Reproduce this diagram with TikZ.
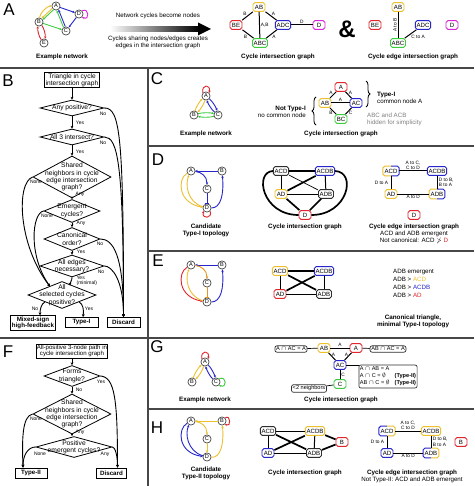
\documentclass[tikz,border=0pt]{standalone}
\usepackage{fontspec}
\setmainfont{Liberation Sans}
\usepackage{amssymb}
\usetikzlibrary{arrows.meta,shapes.geometric,calc,decorations.pathreplacing}
\definecolor{yel}{HTML}{EDC030}
\definecolor{blu}{HTML}{2626CC}
\definecolor{rdd}{HTML}{E0262C}
\definecolor{grn}{HTML}{3CCC3C}
\definecolor{mag}{HTML}{D826D8}
\definecolor{org}{HTML}{E89420}
\definecolor{blk}{HTML}{2E2E2E}
\definecolor{divc}{HTML}{474747}
\newcommand\fs[2]{\fontsize{#1}{#2}\selectfont}
\tikzset{
  cyc/.style={draw, rounded corners=1.8pt, line width=0.9pt, fill=white, inner sep=1.2pt, minimum height=8.8pt, minimum width=12pt, font=\fs{6.1}{6.8}},
  nn/.style={circle, draw=blk, line width=0.6pt, fill=white, inner sep=0pt, minimum size=8.2pt, font=\fs{5.6}{6}},
  lbl/.style={font=\fs{4.8}{5.3}, inner sep=0.4pt, align=center},
  flbl/.style={font=\fs{5}{5.5}, inner sep=0.4pt, align=center},
  capt/.style={font=\bfseries\fs{6.3}{7.1}, align=center, inner sep=0pt},
  txt/.style={font=\fs{6.2}{6.8}, align=center, inner sep=0pt},
  plab/.style={font=\fs{17}{17}, inner sep=0pt},
  ar/.style={-{Stealth[length=2.4pt,width=2.4pt]}},
  far/.style={-{Stealth[length=2.8pt,width=2.8pt]}},
  tb/.style={-{Bar[width=3.5pt]}},
  netw/.style={line width=0.9pt},
  flowbox/.style={draw, line width=0.8pt, align=center, font=\fs{6.6}{7.2}, inner sep=1.1pt, fill=white},
  endbox/.style={draw, line width=0.9pt, align=center, font=\bfseries\fs{6.2}{6.8}, inner sep=1pt, minimum height=10pt, fill=white},
  dshape/.style={diamond, draw, line width=0.8pt, inner sep=0pt, fill=white},
  dtext/.style={font=\fs{6.7}{7.3}, align=center, inner sep=0pt},
  fl/.style={line width=0.9pt},
  ge/.style={line width=1pt},
  gt/.style={line width=0.7pt},
  gk/.style={line width=1.7pt},
  cbox/.style={draw=blk, rounded corners=2pt, line width=0.7pt, fill=white, inner sep=1.2pt, font=\fs{5.6}{7}},
  divider/.style={line width=1.3pt, draw=divc},
}
\newcommand\dmd[5]{%
  \node[dshape,minimum width=#3pt,minimum height=#4pt] (#1) at (#2) {};
  \node[dtext] (#1t) at (#2) {#5};}
\newcommand\emnode[5]{%
  \node[cyc,draw=none] (#1) at (#2) {#3};
  \begin{scope}
    \clip ([shift={(-2pt,2pt)}]#1.north west) rectangle ([shift={(0pt,-2pt)}]#1.south);
    \draw[#4,line width=0.9pt,rounded corners=1.8pt] (#1.north west) rectangle (#1.south east);
  \end{scope}
  \begin{scope}
    \clip ([shift={(0pt,2pt)}]#1.north) rectangle ([shift={(2pt,-2pt)}]#1.south east);
    \draw[#5,line width=0.9pt,rounded corners=1.8pt] (#1.north west) rectangle (#1.south east);
  \end{scope}}
\newcommand\lensedge[4]{%
  \draw[#3] (#1) .. controls ($(#1)!0.33!(#2)!#4!90:(#2)$) and ($(#1)!0.67!(#2)!#4!90:(#2)$) .. (#2);
  \draw[#3] (#2) .. controls ($(#1)!0.67!(#2)!#4!-90:(#2)$) and ($(#1)!0.33!(#2)!#4!-90:(#2)$) .. (#1);}
\begin{document}
\begin{tikzpicture}[x=1pt,y=-1pt]
\useasboundingbox (0,0) rectangle (474,486);
\fill[white] (0,0) rectangle (474,486);
% dividers
\draw[divider] (0,68) -- (474,68);
\draw[divider] (0,338) -- (474,338);
\draw[divider] (148,68) -- (148,486);
\draw[divider] (148,146) -- (474,146);
\draw[divider] (148,251) -- (474,251);
\draw[divider] (148,409) -- (474,409);

%%%%%%%% PANEL A
\node[plab] (labA) at (9,10) {A};
\node[nn] (aA) at (56,6) {A};
\node[nn] (aD) at (79,14) {D};
\node[nn] (aB) at (39,22) {B};
\node[nn] (aC) at (66,31) {C};
\node[nn] (aE) at (44,43) {E};
\draw[netw,blu,ar] (aA) -- (aD);
\draw[netw,blu,ar] (aD) -- (aC);
\draw[netw,blu,ar,transform canvas={xshift=0.9pt,yshift=0.35pt}] (aC) -- (aA);
\draw[netw,grn,ar,transform canvas={xshift=-0.9pt,yshift=-0.35pt}] (aC) -- (aA);
\draw[netw,grn,ar] (aB) -- (aC);
\draw[netw,yel,ar,transform canvas={xshift=-0.6pt,yshift=0.6pt}] (aA) -- (aB);
\draw[netw,grn,ar,transform canvas={xshift=0.7pt,yshift=-0.7pt}] (aA) -- (aB);
\draw[netw,yel,ar] (aB) .. controls (40,13) and (47,6) .. (aA);
\lensedge{aB}{aE}{netw,rdd,ar}{3.5pt}
\draw[netw,mag,ar] (aD.north east) .. controls (89,7) and (90,21) .. (aD.south east);
\node[capt] (capA1) at (62,57) {Example network};
\shade[left color=white,right color=black] (110,26.8) rectangle (199,31.2);
\fill[black] (198,22.5) -- (211,29) -- (198,35.5) -- cycle;
\node[txt] (tA1) at (158,16) {Network cycles become nodes};
\node[txt] (tA2) at (158,42) {Cycles sharing nodes/edges creates\\edges in the intersection graph};
% cycle intersection graph
\node[cyc,draw=yel] (agAB) at (259,7) {AB};
\node[cyc,draw=rdd] (agBE) at (236,25) {BE};
\node[cyc,draw=blu] (agADC) at (283,25) {ADC};
\node[cyc,draw=mag] (agD) at (319,25) {D};
\node[cyc,draw=grn] (agABC) at (260,43) {ABC};
\draw[ge] (agAB) -- node[lbl,above left=0pt]{B} (agBE);
\draw[ge] (agAB) -- node[lbl,above right=0pt]{A} (agADC);
\draw[ge] (agAB) -- node[lbl,right=0.5pt]{A,B} (agABC);
\draw[ge] (agADC) -- node[lbl,above=0.5pt]{D} (agD);
\draw[ge] (agBE) -- node[lbl,below left=0pt]{B} (agABC);
\draw[ge] (agADC) -- node[lbl,below right=0pt]{A} (agABC);
\node[capt] (capA2) at (278,57) {Cycle intersection graph};
\node[font=\bfseries\fs{24}{24},inner sep=0pt] (amp) at (347,29) {\&};
% cycle edge intersection graph
\node[cyc,draw=yel] (aeAB) at (398,7) {AB};
\node[cyc,draw=rdd] (aeBE) at (375,25) {BE};
\node[cyc,draw=blu] (aeADC) at (423,25) {ADC};
\node[cyc,draw=mag] (aeD) at (452,25) {D};
\node[cyc,draw=grn] (aeABC) at (398,43) {ABC};
\draw[ge] (aeAB) -- node[lbl,rotate=90,anchor=south,yshift=0.5pt]{A to B} (aeABC);
\draw[ge] (aeABC) -- node[lbl,below right=0pt]{C to A} (aeADC);
\node[capt] (capA3) at (413,57) {Cycle edge intersection graph};

%%%%%%%% PANEL B
\node[plab] (labB) at (8,81) {B};
\node[flowbox] (b0) at (72,80) {Triangle in cycle\\intersection graph};
\dmd{b1}{72,108}{64}{16}{Any positive?}
\dmd{b2}{72,137}{64}{16}{All 3 intersect?}
\dmd{b3}{72,177}{78}{42}{Shared\\neighbors in cycle\\edge intersection\\graph?}
\dmd{b4}{72,211}{56}{23}{Emergent\\cycles?}
\dmd{b5}{72,239}{56}{23}{Canonical\\order?}
\dmd{b6}{72,266}{64}{22}{All edges\\necessary?}
\dmd{b7}{62,295}{68}{27}{All\\selected cycles\\positive?}
\node[endbox,minimum width=45pt] (bm) at (33,323) {Mixed-sign\\high-feedback};
\node[endbox,minimum width=33pt] (bt) at (81.5,322.5) {Type-I};
\node[endbox,minimum width=33pt] (bd) at (123.5,322.5) {Discard};
\coordinate (b7in) at (70,285.5);
\coordinate (b7nw) at (50,286.5);
\draw[fl,far] (b0) -- (b1);
\draw[fl,far] (b1) -- (b2);
\draw[fl,far] (b2) -- (b3);
\draw[fl,far] (b3) -- (b4);
\draw[fl,far] (b4) -- (b5);
\draw[fl,far] (b5) -- (b6);
\draw[fl,far] (b6.south) .. controls (72,281) and (70,282) .. (b7in);
\draw[fl,far] (b1.east) .. controls (120,108) and (123.5,135) .. (bd.north);
\draw[fl,far] (b2.east) .. controls (118,137) and (123.5,165) .. (bd.north);
\draw[fl,far] (b5.east) .. controls (113,239) and (123.5,255) .. (bd.north);
\draw[fl,far] (b6.east) .. controls (112,266) and (123.5,280) .. (bd.north);
\draw[fl,far] (b3.west) .. controls (16,183) and (18,245) .. (b7nw);
\draw[fl,far] (b4.west) .. controls (32,213) and (28,255) .. (b7nw);
\draw[fl,far] ($(b7.south)!0.5!(b7.west)$) .. controls (41,304) and (40,310) .. ([xshift=7pt]bm.north);
\draw[fl,far] ($(b7.south)!0.5!(b7.east)$) .. controls (83,304) and (84,310) .. ([xshift=1.5pt]bt.north);
\node[flbl] (lb1n) at (103,114) {No};
\node[flbl] (lb1y) at (80,122.5) {Yes};
\node[flbl] (lb2n) at (103,143) {No};
\node[flbl] (lb2y) at (80,151.5) {Yes};
\node[flbl] (lb3n) at (36,181.5) {None};
\node[flbl] (lb3a) at (80,194) {Any};
\node[flbl] (lb4n) at (47,215.5) {None};
\node[flbl] (lb4a) at (81,223) {Any};
\node[flbl] (lb5n) at (100,244) {No};
\node[flbl] (lb5y) at (81,252) {Yes};
\node[flbl] (lb6n) at (101,272) {No};
\node[flbl,align=left,anchor=west] (lb6y) at (76,281) {Yes\\(minimal)};
\node[flbl] (lb7n) at (35,308.5) {No};
\node[flbl] (lb7y) at (89,308.5) {Yes};

%%%%%%%% PANEL F
\node[plab] (labF) at (8,352) {F};
\node[flowbox,inner sep=0.8pt,font=\fs{6.1}{6.7}] (f0) at (72,351) {All-positive 3-node path in\\cycle intersection graph};
\dmd{f1}{72,376}{56}{21}{Forms\\triangle?}
\dmd{f2}{72,414}{78}{40}{Shared\\neighbors in cycle\\edge intersection\\graph?}
\dmd{f3}{74,447}{76}{21}{Positive\\emergent cycles?}
\node[endbox,minimum width=32pt] (ft) at (31,473) {Type-II};
\node[endbox,minimum width=30pt] (fd) at (111.5,473) {Discard};
\draw[fl,far] (f0) -- (f1);
\draw[fl,far] (f1) -- (f2);
\draw[fl,far] (f2.south) -- (f2.south |- f3.north);
\draw[fl,far] (f1.east) .. controls (115,377) and (117.5,400) .. ([xshift=6pt]fd.north);
\draw[fl,far] (f2.west) .. controls (22,416) and (22,440) .. ([xshift=-8pt]ft.north);
\draw[fl,far] (f3.west) .. controls (28,447) and (23,455) .. ([xshift=-8pt]ft.north);
\draw[fl,far] (f3.east) .. controls (115,447) and (117.5,455) .. ([xshift=6pt]fd.north);
\node[flbl] (lf1y) at (101,382) {Yes};
\node[flbl] (lf1n) at (79,390) {No};
\node[flbl] (lf2n) at (36,418.5) {None};
\node[flbl] (lf2a) at (80,432) {Any};
\node[flbl] (lf3n) at (40,454) {None};
\node[flbl] (lf3a) at (105,454) {Any};

%%%%%%%% PANEL C
\node[plab] (labC) at (157,79) {C};
\node[nn] (cA) at (206,96) {A};
\node[nn] (cB) at (194,115) {B};
\node[nn] (cC) at (218,115) {C};
\lensedge{cA}{cB}{netw,yel,ar}{2.5pt}
\lensedge{cA}{cC}{netw,blu,ar}{2.5pt}
\lensedge{cB}{cC}{netw,grn,ar}{2.5pt}
\draw[netw,rdd,ar] (cA.north west) .. controls (201,84) and (211,84) .. (cA.north east);
\node[capt] (capC1) at (206,134) {Example network};
\node[cyc,draw=rdd] (cg1) at (341,87) {A};
\node[cyc,draw=yel] (cg2) at (325,103) {AB};
\node[cyc,draw=blu] (cg3) at (356,103) {AC};
\node[cyc,draw=grn] (cg4) at (341,119) {BC};
\draw[ge] (cg1) -- node[lbl,above left=-0.5pt]{A} (cg2);
\draw[ge] (cg1) -- node[lbl,above right=-0.5pt]{A} (cg3);
\draw[ge] (cg2) -- node[lbl,above=0.3pt]{A} (cg3);
\draw[ge] (cg2) -- node[lbl,below left=-0.5pt]{B} (cg4);
\draw[ge] (cg3) -- node[lbl,below right=-0.5pt]{C} (cg4);
\draw[line width=0.8pt,decorate,decoration={brace,amplitude=4pt}] (366,81) -- (366,107);
\draw[line width=0.8pt,decorate,decoration={brace,amplitude=4pt}] (316,125) -- (316,97);
\node[capt,anchor=west] (tC1) at (377,95) {Type-I};
\node[txt,anchor=west] (tC2) at (377,101.5) {common node A};
\node[capt,anchor=east] (tC3) at (306,109) {Not Type-I};
\node[txt,anchor=east] (tC4) at (306,115.5) {no common node};
\node[txt,anchor=west,align=left,text=gray] (tC5) at (367,119.5) {ABC and ACB\\hidden for simplicity};
\node[capt] (capC2) at (341,134) {Cycle intersection graph};

%%%%%%%% PANEL D
\node[plab] (labD) at (158,160) {D};
\node[nn] (dA) at (191,171) {A};
\node[nn] (dB) at (222,171) {B};
\node[nn] (dC) at (207,189) {C};
\node[nn] (dD) at (207,208) {D};
\draw[netw,blu,ar] (dB) -- (dA);
\draw[netw,blu,ar] (dA) .. controls (201,172) and (207,176) .. (dC);
\draw[netw,blu,tb] (dC) -- (dD);
\draw[netw,blu,ar] (dD) .. controls (221,208) and (224,194) .. (dB);
\draw[netw,yel,ar] (dA) .. controls (177,179) and (178,203) .. (dD);
\draw[netw,yel,ar] (dD) .. controls (187,202) and (185,184) .. (dA);
\draw[netw,rdd,ar] (dD.south east) .. controls (213,219) and (201,219) .. (dD.south west);
\node[capt] (capD1) at (206,230.5) {Candidate\\Type-I topology};
\node[cyc,draw=blk] (dg1) at (281,171) {ACD};
\node[cyc,draw=blu] (dg2) at (325,171) {ACDB};
\node[cyc,draw=yel] (dg3) at (281,194) {AD};
\node[cyc,draw=blk] (dg4) at (326,194) {ADB};
\node[cyc,draw=rdd] (dg5) at (305,215) {D};
\draw[gk] (dg1) -- (dg2);
\draw[ge] (dg1) -- (dg3);
\draw[gt] (dg1) -- (dg4);
\draw[gk] (dg2) -- (dg3);
\draw[ge] (dg2) -- (dg4);
\draw[ge] (dg3) -- (dg4);
\draw[gk] (dg3) -- (dg5);
\draw[gk] (dg4) -- (dg5);
\draw[gk] (dg1.west) .. controls (254,172) and (262,215) .. (dg5.west);
\draw[gk] (dg2.east) .. controls (357,172) and (348,215) .. (dg5.east);
\node[capt] (capD2) at (305,227) {Cycle intersection graph};
\emnode{de1}{391,171}{ACD}{yel}{blu}
\node[cyc,draw=blu] (de2) at (437,171) {ACDB};
\node[cyc,draw=yel] (de3) at (391,194) {AD};
\emnode{de4}{437,194}{ADB}{yel}{blu}
\node[cyc,draw=rdd] (de5) at (414,215) {D};
\draw[ge] (de1) -- node[lbl,above=0.5pt]{A to C,\\C to D} (de2);
\draw[ge] (de1) -- node[lbl,left=2pt]{D to A} (de3);
\draw[ge] (de2) -- node[lbl,right=1pt,align=left]{D to B,\\B to A} (de4);
\draw[ge] (de3) -- node[lbl,below=0.5pt]{A to D} (de4);
\node[txt] (capD3) at (414,234) {\textbf{\fs{6.3}{6.8}Cycle edge intersection graph}\\ACD and ADB emergent\\Not canonical: ACD $\ngtr$ \textcolor{rdd}{D}};

%%%%%%%% PANEL E
\node[plab] (labE) at (158,261) {E};
\node[nn] (eA) at (191,265) {A};
\node[nn] (eB) at (222,265) {B};
\node[nn] (eC) at (207,283) {C};
\node[nn] (eD) at (207,302) {D};
\draw[netw,blu,ar] (eB) -- (eA);
\draw[netw,org,ar] (eA) .. controls (201,266) and (207,270) .. (eC);
\draw[netw,org,tb] (eC) -- (eD);
\draw[netw,blu,ar] (eD) .. controls (221,302) and (224,288) .. (eB);
\draw[netw,rdd,ar] (eA) .. controls (177,273) and (178,297) .. (eD);
\draw[netw,yel,ar] (eD) .. controls (187,296) and (185,278) .. (eA);
\node[cyc,draw=yel] (eg1) at (280,271) {ACD};
\node[cyc,draw=blu] (eg2) at (324,271) {ACDB};
\node[cyc,draw=rdd] (eg3) at (280,294) {AD};
\node[cyc,draw=blk] (eg4) at (324,294) {ADB};
\draw[gk] (eg1) -- (eg2);
\draw[ge] (eg1) -- (eg3);
\draw[gk] (eg1) -- (eg4);
\draw[gk] (eg2) -- (eg3);
\draw[ge] (eg2) -- (eg4);
\draw[ge] (eg3) -- (eg4);
\node[txt,anchor=west,align=left,font=\fs{6.2}{8}] (tE1) at (393,283) {ADB emergent\\ADB > \textcolor{yel}{ACD}\\ADB > \textcolor{blu}{ACDB}\\ADB > \textcolor{rdd}{AD}};
\node[capt] (capE1) at (413,321.5) {Canonical triangle,\\minimal Type-I topology};

%%%%%%%% PANEL G
\node[plab] (labG) at (157,347) {G};
\node[nn] (gA) at (205,362) {A};
\node[nn] (gB) at (192,382) {B};
\node[nn] (gC) at (216,382) {C};
\lensedge{gA}{gB}{netw,yel,ar}{2.5pt}
\lensedge{gA}{gC}{netw,blu,ar}{2.5pt}
\draw[netw,rdd,ar] (gA.north west) .. controls (200,350) and (210,350) .. (gA.north east);
\draw[netw,grn,ar] (gC.north east) .. controls (227,375) and (227,389) .. (gC.south east);
\node[capt] (capG1) at (205,400) {Example network};
\node[cyc,draw=yel] (gg1) at (324,348) {AB};
\node[cyc,draw=rdd] (gg2) at (356,348) {A};
\node[cyc,draw=blu] (gg3) at (340,365) {AC};
\node[cyc,draw=grn] (gg4) at (340,384) {C};
\draw[ge] (gg1) -- node[lbl,above=0.3pt]{A} (gg2);
\draw[ge] (gg1) -- node[lbl,above right=-1pt]{A} (gg3);
\draw[ge] (gg2) -- node[lbl,above left=-1pt]{A} (gg3);
\draw[ge] (gg3) -- node[lbl,right=0.5pt]{C} (gg4);
\node[cbox] (gc1) at (291,349) {A $\cap$ AC = A};
\node[cbox] (gc2) at (388,349) {AB $\cap$ AC = A};
\node[cbox,inner sep=1pt] (gc3) at (388,376.5) {\begin{tabular}{@{}l@{\hspace{5pt}}l@{}}A $\cap$ AB = A & \\ A $\cap$ C = $\emptyset$ & \textbf{(Type-II)}\\ AB $\cap$ C = $\emptyset$ & \textbf{(Type-II)}\end{tabular}};
\node[cbox] (gc4) at (309,388.5) {<2 neighbors};
\draw[gt] (gc1) -- (gg1);
\draw[gt] (gc2) -- (gg2);
\draw[gt] (gc3.west |- gg3) -- (gg3);
\draw[gt] (gc4) -- (gg4);
\node[capt] (capG2) at (341,400) {Cycle intersection graph};

%%%%%%%% PANEL H
\node[plab] (labH) at (157,428) {H};
\node[nn] (hA) at (191,421) {A};
\node[nn] (hB) at (222,421) {B};
\node[nn] (hC) at (207,439) {C};
\node[nn] (hD) at (207,457) {D};
\draw[netw,yel,ar] (hB) -- (hA);
\draw[netw,yel,ar] (hA) .. controls (201,422) and (207,426) .. (hC);
\draw[netw,yel,ar] (hC) -- (hD);
\draw[netw,yel,ar] (hD) .. controls (221,458) and (224,443) .. (hB);
\draw[netw,blu,ar] (hA) .. controls (177,429) and (178,453) .. (hD);
\draw[netw,blu,ar] (hD) .. controls (187,451) and (185,433) .. (hA);
\draw[netw,rdd,ar] (hB.north east) .. controls (231,414) and (231,428) .. (hB.south east);
\node[capt] (capH1) at (206,473.5) {Candidate\\Type-II topology};
\node[cyc,draw=blk] (hg1) at (268,431) {ACD};
\node[cyc,draw=yel] (hg2) at (315,431) {ACDB};
\node[cyc,draw=blu] (hg3) at (268,453) {AD};
\node[cyc,draw=blk] (hg4) at (314,453) {ADB};
\node[cyc,draw=rdd] (hg5) at (342,442) {B};
\draw[ge] (hg1) -- (hg2);
\draw[ge] (hg1) -- (hg3);
\draw[gk] (hg1) -- (hg4);
\draw[gk] (hg2) -- (hg3);
\draw[ge] (hg2) -- (hg4);
\draw[ge] (hg3) -- (hg4);
\draw[gk] (hg2) -- (hg5);
\draw[gk] (hg4) -- (hg5);
\node[capt] (capH2) at (305,473) {Cycle intersection graph};
\emnode{he1}{387,431}{ACD}{blu}{yel}
\node[cyc,draw=yel] (he2) at (431,431) {ACDB};
\node[cyc,draw=blu] (he3) at (387,453) {AD};
\emnode{he4}{431,453}{ADB}{blu}{yel}
\node[cyc,draw=rdd] (he5) at (461,442) {B};
\draw[ge] (he1) -- node[lbl,above=0.5pt]{A to C,\\C to D} (he2);
\draw[ge] (he1) -- node[lbl,left=2pt]{D to A} (he3);
\draw[ge] (he2) -- node[lbl,right=1pt,align=left]{D to B,\\B to A} (he4);
\draw[ge] (he3) -- node[lbl,below=0.5pt]{A to D} (he4);
\node[txt] (capH3) at (412,476.5) {\textbf{\fs{6.3}{6.8}Cycle edge intersection graph}\\Not Type-II: ACD and ADB emergent};
\end{tikzpicture}
\end{document}
